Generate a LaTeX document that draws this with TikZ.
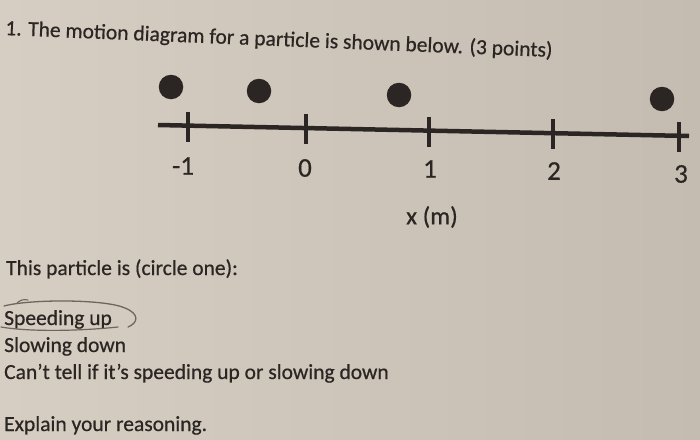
\documentclass[tikz,border=0pt]{standalone}
\usepackage{fontspec}
\setmainfont{Carlito}[FakeBold=0.6]
\definecolor{paperL}{HTML}{D6CEC2}
\definecolor{paperR}{HTML}{C4BCB0}
\definecolor{ink}{HTML}{2B2623}
\definecolor{pen}{HTML}{6E655C}
\begin{document}
\begin{tikzpicture}[x=1pt,y=-1pt,
  txt/.style={font=\fontsize{21.5}{26}\selectfont, text=ink, anchor=base west, inner sep=0pt},
  num/.style={font=\fontsize{27}{30}\selectfont, text=ink, inner sep=0pt},
  axis/.style={draw=ink, line width=4.5pt},
  tickmark/.style={draw=ink, line width=4.5pt},
  dot/.style={circle, fill=ink, inner sep=0pt, minimum size=24.5pt}]
\shade[left color=paperL, right color=paperR] (0,0) rectangle (700,439);
\useasboundingbox (0,0) rectangle (700,439);

\node[txt, rotate=-2.3] (title) at (5,35) {1. The motion diagram for a particle is shown below. (3 points)};

% dots
\node[dot] (d1) at (171,87) {};
\node[dot] (d2) at (259,91) {};
\node[dot] (d3) at (399,95) {};
\node[dot] (d4) at (662,99) {};

% axis
\coordinate (a0) at (158,125);
\coordinate (a1) at (689,136);
\draw[axis] (a0) -- (a1);
\foreach \x/\n in {188/m1,306/z,429/o,553/t,679/th}{
  \pgfmathsetmacro{\yy}{125+(\x-158)*11/531}
  \coordinate (t\n) at (\x,\yy);
  \draw[tickmark] ([yshift=14pt]t\n) -- ([yshift=-16pt]t\n);
}
\node[num] (lm1) at (183,166) {-1};
\node[num] (lz) at (305,168) {0};
\node[num] (lo) at (430,169) {1};
\node[num] (lt) at (554,171) {2};
\node[num] (lth) at (681,174) {3};

\node[font=\fontsize{25}{28}\selectfont, text=ink, inner sep=0pt] (xm) at (432,217) {x (m)};

\node[txt] (q) at (6,275) {This particle is (circle one):};
\node[txt] (o1) at (4,325) {Speeding up};
\node[txt] (o2) at (4,352) {Slowing down};
\node[txt] (o3) at (4,379) {Can’t tell if it’s speeding up or slowing down};
\node[txt] (ex) at (4,431) {Explain your reasoning.};

% hand-drawn circle around "Speeding up"
\draw[pen, line width=1.3pt, line cap=round]
  (4,306) .. controls (30,299) and (105,299) .. (125,308)
  .. controls (140,314) and (138,323) .. (128,327);
\draw[pen, line width=1.2pt, line cap=round]
  (118,327) .. controls (80,331) and (30,332) .. (1,327);
\draw[pen, line width=1.1pt, line cap=round]
  (17,303) .. controls (20,300) and (24,299) .. (28,300);
\end{tikzpicture}
\end{document}
